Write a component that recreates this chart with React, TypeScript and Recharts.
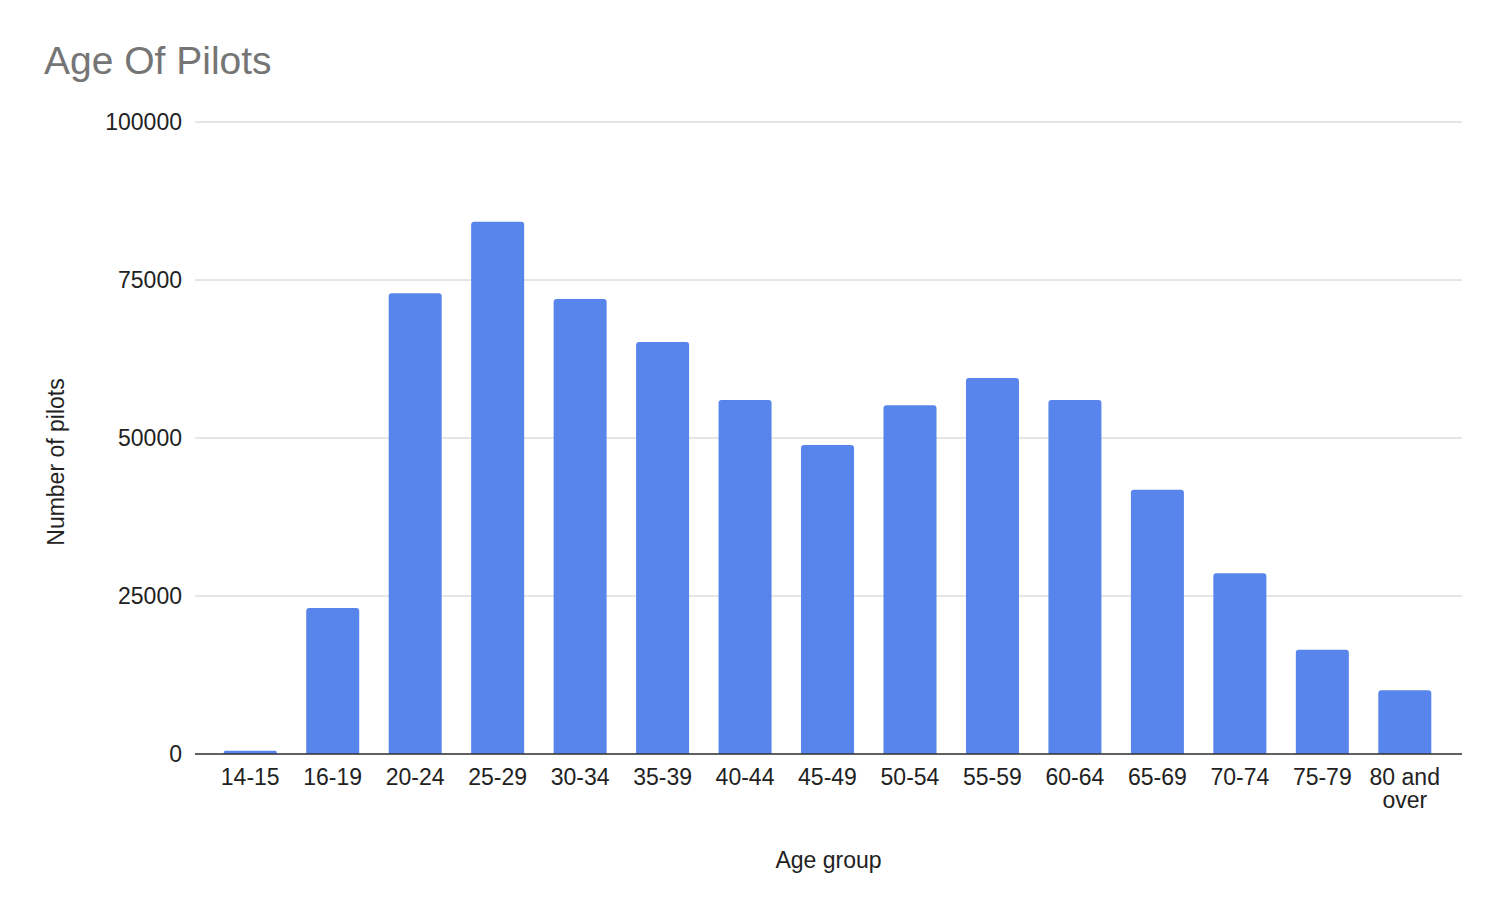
import { BarChart, Bar, XAxis, YAxis, CartesianGrid, Text } from 'recharts'

const AGE_GROUPS = [
  '14-15', '16-19', '20-24', '25-29', '30-34', '35-39', '40-44', '45-49',
  '50-54', '55-59', '60-64', '65-69', '70-74', '75-79', '80 and over',
]
const PILOTS = [
  500, 23100, 72900, 84200, 72000, 65200, 56000, 48900,
  55200, 59500, 56000, 41800, 28600, 16500, 10100,
]
const Y_TICKS = [0, 25000, 50000, 75000, 100000]

const FONT = '"Liberation Sans", Arial, sans-serif'
const FONT_SIZE = 23

const chartData = AGE_GROUPS.map((group, i) => ({ group, pilots: PILOTS[i] }))

function AgeTick({ x, y, payload }: any) {
  return (
    <Text
      x={x}
      y={y}
      width={76}
      textAnchor="middle"
      verticalAnchor="start"
      lineHeight={23}
      style={{ fontSize: FONT_SIZE, fill: '#222', fontFamily: FONT }}
    >
      {payload.value}
    </Text>
  )
}

// y-axis title sits a bit below the plot centre, as in the source chart
function YTitle() {
  return (
    <text
      x={56}
      y={462}
      transform="rotate(-90 56 462)"
      textAnchor="middle"
      dominantBaseline="central"
      style={{ fontSize: FONT_SIZE, fill: '#222', fontFamily: FONT }}
    >
      Number of pilots
    </text>
  )
}

export default function App() {
  return (
    <div style={{ position: 'absolute', left: 0, top: 0, width: 1500, height: 911, background: '#fff', fontFamily: FONT }}>
      <div
        style={{
          position: 'absolute',
          left: 44,
          top: 41,
          fontSize: 39,
          lineHeight: 1,
          color: '#757575',
        }}
      >
        Age Of Pilots
      </div>
      <BarChart
        width={1500}
        height={911}
        data={chartData}
        margin={{ top: 122, right: 38, left: 0, bottom: 27 }}
        barCategoryGap="17.9%"
      >
        <CartesianGrid vertical={false} stroke="#cccccc" />
        <XAxis
          dataKey="group"
          height={130}
          interval={0}
          padding={{ left: 14, right: 16 }}
          tickLine={false}
          tickSize={0}
          tickMargin={15}
          axisLine={{ stroke: '#333', strokeWidth: 1.5 }}
          tick={<AgeTick />}
          label={{
            value: 'Age group',
            position: 'insideBottom',
            offset: 16,
            style: { fontSize: FONT_SIZE, fill: '#222', fontFamily: FONT },
          }}
        />
        <YAxis
          width={195}
          domain={[0, 100000]}
          ticks={Y_TICKS}
          axisLine={false}
          tickLine={false}
          tickSize={0}
          tickMargin={13}
          tick={{ fontSize: FONT_SIZE, fill: '#222', fontFamily: FONT }}
          label={{ content: () => <YTitle /> }}
        />
        <Bar dataKey="pilots" fill="#5885EB" radius={[3, 3, 0, 0]} isAnimationActive={false} />
      </BarChart>
    </div>
  )
}
